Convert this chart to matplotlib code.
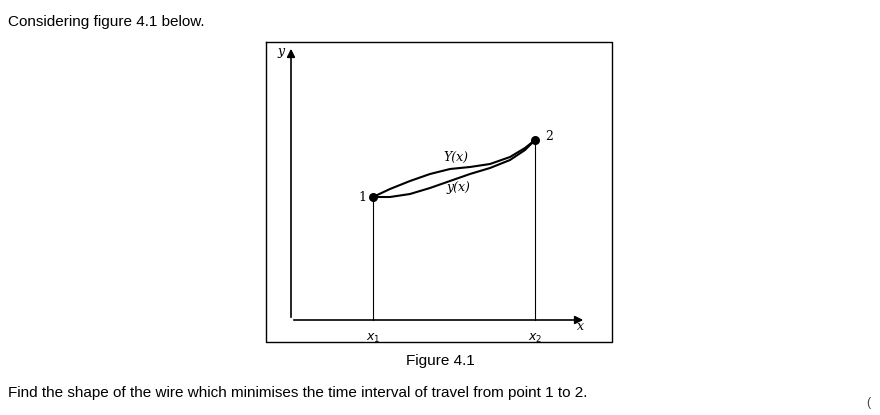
import matplotlib
matplotlib.use("Agg")
import matplotlib.pyplot as plt

# diagram geometry (pixel coordinates of the reference)
upper_x = [373, 390, 410, 430, 450, 470, 490, 510, 525, 535]
upper_y = [197, 189, 181, 174, 169, 167, 164, 157, 148, 140]
lower_x = [373, 390, 410, 430, 450, 470, 490, 510, 525, 535]
lower_y = [197, 197, 194, 188, 181, 174, 168, 160, 150, 140]
points_x = [373, 535]
points_y = [197, 140]
point_labels = ["1", "2"]

fig = plt.figure(figsize=(8.8, 4.15), dpi=100)
ax = fig.add_axes([0, 0, 1, 1])
ax.set_xlim(0, 880)
ax.set_ylim(415, 0)
ax.axis("off")

sans = "Liberation Sans"
ax.text(8, 22, "Considering figure 4.1 below.", fontsize=11, family=sans, va="center")
ax.text(440, 361, "Figure 4.1", fontsize=11, family=sans, ha="center", va="center")
ax.text(8, 393, "Find the shape of the wire which minimises the time interval of travel from point 1 to 2.",
        fontsize=11, family=sans, va="center")
ax.text(866, 403, "(", fontsize=9, family=sans, va="center", color="#444")

# frame
ax.plot([266, 612, 612, 266, 266], [42, 42, 342, 342, 42], color="black", lw=1)

# axes arrows
ax.annotate("", xy=(291, 46), xytext=(291, 320),
            arrowprops=dict(arrowstyle="-|>", color="black", lw=1.2, mutation_scale=12))
ax.annotate("", xy=(586, 320), xytext=(291, 320),
            arrowprops=dict(arrowstyle="-|>", color="black", lw=1.2, mutation_scale=12))
ax.text(281, 52, "y", fontsize=9, family="DejaVu Serif", style="italic", ha="center", va="center")
ax.text(580, 326, "x", fontsize=9, family="DejaVu Serif", style="italic", ha="center", va="center")

# verticals
for px, py in zip(points_x, points_y):
    ax.plot([px, px], [py, 320], color="black", lw=0.8)

ax.plot(upper_x, upper_y, color="black", lw=1.5)
ax.plot(lower_x, lower_y, color="black", lw=1.5)
ax.scatter(points_x, points_y, s=30, color="black", zorder=5)
ax.text(366, 197, point_labels[0], fontsize=9, family="DejaVu Serif", ha="right", va="center")
ax.text(545, 136, point_labels[1], fontsize=9, family="DejaVu Serif", ha="left", va="center")
ax.text(456, 157, "Y(x)", fontsize=9, family="DejaVu Serif", style="italic", ha="center", va="center")
ax.text(458, 187, "y(x)", fontsize=9, family="DejaVu Serif", style="italic", ha="center", va="center")
ax.text(373, 338, "$x_1$", fontsize=9, ha="center", va="center")
ax.text(535, 338, "$x_2$", fontsize=9, ha="center", va="center")

fig.savefig("out.png", dpi=100)
